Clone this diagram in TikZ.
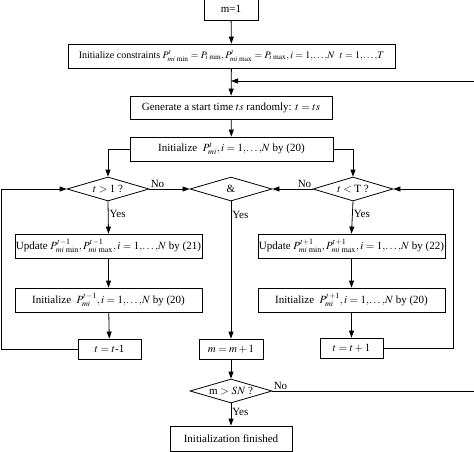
\documentclass[tikz,border=0pt]{standalone}
\usepackage{mathptmx}
\usepackage{fontspec}
\setmainfont{Liberation Serif}
\usepackage{tikz}
\usetikzlibrary{shapes}
\usetikzlibrary{positioning}
\usetikzlibrary{arrows.meta}
\newcommand{\dd}{,\!\ldots,\!}
\tikzset{
    mybox/.style = {rectangle, line width=0.8pt, draw=black, align=center, fill=white, inner sep=1pt, font=\fontsize{11}{13}\selectfont, text=black},
    mydia/.style = {diamond, aspect=3.4, line width=0.8pt, draw=black, align=center, fill=white, inner sep=0pt, font=\fontsize{11}{13}\selectfont, text=black},
    edgea/.style = {-{Triangle[length=7pt,width=5pt]}, line width=0.8pt, black},
    edgen/.style = {-, line width=0.8pt, black},
    lbl/.style = {font=\fontsize{11}{13}\selectfont, inner sep=1pt}
}

\begin{document}
\begin{tikzpicture}[x=1pt, y=-1pt]
  \useasboundingbox (0,0) rectangle (474,451);
  % main column
  \node[mybox, minimum width=54pt, minimum height=22pt] (m1) at (231,9) {m=1};
  \node[mybox, minimum width=327pt, minimum height=24pt, font=\fontsize{10}{12}\selectfont] (cons) at (231.5,56)
    {Initialize constraints $P^{t}_{mi\,\min}=P_{i\,\min},P^{t}_{mi\,\max}=P_{i\,\max},i=1\dd N\ \ t=1\dd T$};
  \node[mybox, minimum width=202pt, minimum height=23pt] (gen) at (231,107.5)
    {Generate a start time $ts$ randomly: $t=ts$};
  \node[mybox, minimum width=203pt, minimum height=24pt] (init) at (231.5,149)
    {Initialize\ \ $P^{t}_{mi},i=1\dd N$ by (20)};
  % decisions
  \node[mydia, minimum width=82pt, minimum height=24pt] (d1) at (108,189) {$t>1$ ?};
  \node[mydia, minimum width=82pt, minimum height=24pt] (damp) at (231,189) {\&};
  \node[mydia, minimum width=80pt, minimum height=24pt] (d2) at (353,189) {$t<\mathrm{T}$ ?};
  % left branch
  \node[mybox, minimum width=187pt, minimum height=24pt] (upL) at (108.5,246)
    {Update $P^{t-1}_{mi\,\min},P^{t-1}_{mi\,\max},i=1\dd N$ by (21)};
  \node[mybox, minimum width=187pt, minimum height=24pt] (inL) at (108.5,300)
    {Initialize\ \ $P^{t-1}_{mi},i=1\dd N$ by (20)};
  \node[mybox, minimum width=63pt, minimum height=20pt] (tm) at (109.5,349) {$t=t$-1};
  % middle
  \node[mybox, minimum width=64pt, minimum height=20pt] (mm) at (231,349) {$m=m+1$};
  \node[mydia, minimum width=82pt, minimum height=24pt] (dsn) at (231,391) {m $>$ $SN$ ?};
  \node[mybox, minimum width=122pt, minimum height=25pt] (fin) at (231,438.5) {Initialization finished};
  % right branch
  \node[mybox, minimum width=187pt, minimum height=24pt] (upR) at (351.5,246)
    {Update $P^{t+1}_{mi\,\min},P^{t+1}_{mi\,\max},i=1\dd N$ by (22)};
  \node[mybox, minimum width=187pt, minimum height=24pt] (inR) at (351.5,300)
    {Initialize\ \ $P^{t+1}_{mi},i=1\dd N$ by (20)};
  \node[mybox, minimum width=63pt, minimum height=20pt] (tp) at (351.5,348) {$t=t+1$};

  \coordinate (cL) at (1.5,189);
  \coordinate (cR) at (453,189);
  \coordinate (cJ) at (231,81);
  \coordinate (cRR) at (477,81);

  \draw[edgea] (m1) -- (cons);
  \draw[edgea] (cons) -- (gen);
  \draw[edgea] (gen) -- (init);
  \draw[edgea] (init.west) -| (d1.north);
  \draw[edgea] (init.east) -| (d2.north);
  \draw[edgea] (d1.east) node[lbl, above right] (no1) {No} -- (damp.west);
  \draw[edgea] (d2.west) node[lbl, above left] (no2) {No} -- (damp.east);
  \draw[edgea] (d1.south) -- node[lbl, right, pos=0.4] (yes1) {Yes} (upL.north);
  \draw[edgea] (upL) -- (inL);
  \draw[edgea] (inL) -- (tm);
  \draw[edgea] (tm.west) -| (cL) -- (d1.west);
  \draw[edgea] (damp.south) -- node[lbl, right, pos=0.1] (yes2) {Yes} (mm.north);
  \draw[edgea] (mm) -- (dsn);
  \draw[edgea] (dsn.south) -- node[lbl, right, pos=0.4] (yes3) {Yes} (fin.north);
  \draw[edgea] (d2.south) -- node[lbl, right, pos=0.4] (yes4) {Yes} (upR.north);
  \draw[edgea] (upR) -- (inR);
  \draw[edgea] (inR) -- (tp);
  \draw[edgea] (tp.east) -| (cR) -- (d2.east);
  \draw[edgea] (dsn.east) node[lbl, above right] (no3) {No} -| (cRR) -- (cJ);
\end{tikzpicture}
\end{document}
